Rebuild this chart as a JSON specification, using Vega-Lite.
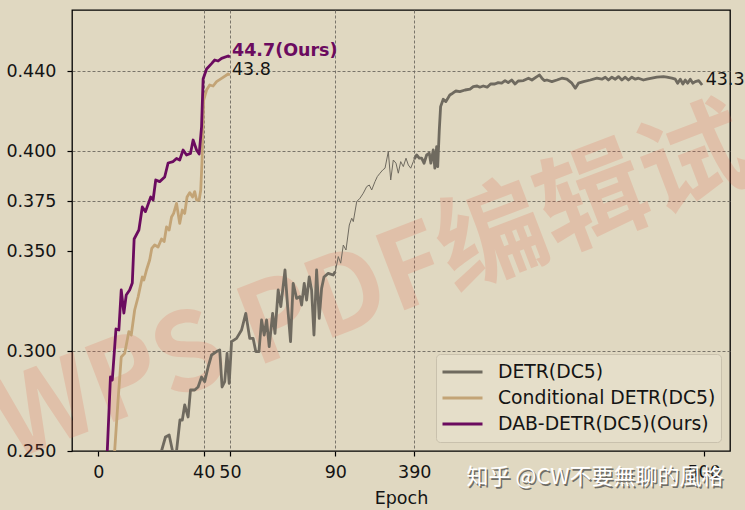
{
  "$schema": "https://vega.github.io/schema/vega-lite/v6.json",
  "width": 658,
  "height": 441,
  "autosize": {"type": "none"},
  "padding": {"left": 72, "top": 10, "right": 15, "bottom": 59},
  "background": "#e0d8c1",
  "config": {
    "font": "DejaVu Sans",
    "view": {"stroke": "#000000", "strokeWidth": 1.3, "fill": "#e0d8c1"},
    "axis": {
      "labelFont": "DejaVu Sans",
      "labelFontSize": 17.5,
      "labelColor": "#141414",
      "tickColor": "#000000",
      "tickSize": 5,
      "tickWidth": 1.2,
      "domain": false,
      "grid": true,
      "gridColor": "#6e6a60",
      "gridDash": [3, 2],
      "gridWidth": 0.9,
      "labelOverlap": false,
      "labelFlush": false,
      "titleFont": "DejaVu Sans",
      "titleFontSize": 17.5,
      "titleFontWeight": "normal",
      "titleColor": "#141414"
    },
    "legend": {
      "orient": "bottom-right",
      "offset": 9,
      "padding": 5,
      "fillColor": "#e5dec9",
      "strokeColor": "#c9c1ad",
      "cornerRadius": 4,
      "labelFont": "DejaVu Sans",
      "labelFontSize": 18.8,
      "labelColor": "#141414",
      "labelOffset": 14,
      "symbolType": "stroke",
      "symbolSize": 1600,
      "symbolStrokeWidth": 3,
      "rowPadding": 0,
      "clipHeight": 26,
      "labelLimit": 400
    }
  },
  "datasets": {
    "curves": [
      {"model": "DETR(DC5)", "epoch": 22.5, "ap": 0.240},
      {"model": "DETR(DC5)", "epoch": 24, "ap": 0.250},
      {"model": "DETR(DC5)", "epoch": 25.5, "ap": 0.257},
      {"model": "DETR(DC5)", "epoch": 26.9, "ap": 0.258},
      {"model": "DETR(DC5)", "epoch": 28.1, "ap": 0.2505},
      {"model": "DETR(DC5)", "epoch": 28.8, "ap": 0.243},
      {"model": "DETR(DC5)", "epoch": 29.7, "ap": 0.250},
      {"model": "DETR(DC5)", "epoch": 31, "ap": 0.2655},
      {"model": "DETR(DC5)", "epoch": 31.9, "ap": 0.2655},
      {"model": "DETR(DC5)", "epoch": 32.8, "ap": 0.273},
      {"model": "DETR(DC5)", "epoch": 34.1, "ap": 0.267},
      {"model": "DETR(DC5)", "epoch": 35, "ap": 0.2805},
      {"model": "DETR(DC5)", "epoch": 36.6, "ap": 0.2805},
      {"model": "DETR(DC5)", "epoch": 37.9, "ap": 0.282},
      {"model": "DETR(DC5)", "epoch": 39.2, "ap": 0.287},
      {"model": "DETR(DC5)", "epoch": 40.4, "ap": 0.2847},
      {"model": "DETR(DC5)", "epoch": 41.7, "ap": 0.292},
      {"model": "DETR(DC5)", "epoch": 43, "ap": 0.298},
      {"model": "DETR(DC5)", "epoch": 44.9, "ap": 0.2997},
      {"model": "DETR(DC5)", "epoch": 46.1, "ap": 0.3005},
      {"model": "DETR(DC5)", "epoch": 47, "ap": 0.282},
      {"model": "DETR(DC5)", "epoch": 48, "ap": 0.2847},
      {"model": "DETR(DC5)", "epoch": 48.9, "ap": 0.2988},
      {"model": "DETR(DC5)", "epoch": 49.7, "ap": 0.2838},
      {"model": "DETR(DC5)", "epoch": 50.6, "ap": 0.3047},
      {"model": "DETR(DC5)", "epoch": 52.5, "ap": 0.3063},
      {"model": "DETR(DC5)", "epoch": 54.4, "ap": 0.3105},
      {"model": "DETR(DC5)", "epoch": 56, "ap": 0.3188},
      {"model": "DETR(DC5)", "epoch": 57.5, "ap": 0.3063},
      {"model": "DETR(DC5)", "epoch": 58.8, "ap": 0.3063},
      {"model": "DETR(DC5)", "epoch": 59.8, "ap": 0.2997},
      {"model": "DETR(DC5)", "epoch": 61, "ap": 0.2997},
      {"model": "DETR(DC5)", "epoch": 62, "ap": 0.3155},
      {"model": "DETR(DC5)", "epoch": 63, "ap": 0.308},
      {"model": "DETR(DC5)", "epoch": 63.9, "ap": 0.3155},
      {"model": "DETR(DC5)", "epoch": 64.9, "ap": 0.3022},
      {"model": "DETR(DC5)", "epoch": 66.2, "ap": 0.3188},
      {"model": "DETR(DC5)", "epoch": 67.1, "ap": 0.3088},
      {"model": "DETR(DC5)", "epoch": 68.3, "ap": 0.3305},
      {"model": "DETR(DC5)", "epoch": 69.3, "ap": 0.3222},
      {"model": "DETR(DC5)", "epoch": 70.9, "ap": 0.3405},
      {"model": "DETR(DC5)", "epoch": 71.9, "ap": 0.3222},
      {"model": "DETR(DC5)", "epoch": 73, "ap": 0.3047},
      {"model": "DETR(DC5)", "epoch": 74, "ap": 0.3338},
      {"model": "DETR(DC5)", "epoch": 75.3, "ap": 0.3263},
      {"model": "DETR(DC5)", "epoch": 76.6, "ap": 0.3272},
      {"model": "DETR(DC5)", "epoch": 77.2, "ap": 0.323},
      {"model": "DETR(DC5)", "epoch": 78.2, "ap": 0.3338},
      {"model": "DETR(DC5)", "epoch": 79.1, "ap": 0.3255},
      {"model": "DETR(DC5)", "epoch": 80.1, "ap": 0.337},
      {"model": "DETR(DC5)", "epoch": 81, "ap": 0.3305},
      {"model": "DETR(DC5)", "epoch": 81.9, "ap": 0.308},
      {"model": "DETR(DC5)", "epoch": 82.9, "ap": 0.3405},
      {"model": "DETR(DC5)", "epoch": 83.9, "ap": 0.3163},
      {"model": "DETR(DC5)", "epoch": 84.8, "ap": 0.3313},
      {"model": "DETR(DC5)", "epoch": 85.7, "ap": 0.337},
      {"model": "DETR(DC5)", "epoch": 87.3, "ap": 0.3388},
      {"model": "DETR(DC5)", "epoch": 89.2, "ap": 0.338},
      {"model": "DETR(DC5)", "epoch": 90, "ap": 0.3397},
      {"model": "DETR(DC5)", "epoch": 101.4, "ap": 0.3472},
      {"model": "DETR(DC5)", "epoch": 110.5, "ap": 0.3439},
      {"model": "DETR(DC5)", "epoch": 120.4, "ap": 0.353},
      {"model": "DETR(DC5)", "epoch": 130.6, "ap": 0.3505},
      {"model": "DETR(DC5)", "epoch": 143.2, "ap": 0.363},
      {"model": "DETR(DC5)", "epoch": 152.3, "ap": 0.3664},
      {"model": "DETR(DC5)", "epoch": 158.4, "ap": 0.3647},
      {"model": "DETR(DC5)", "epoch": 171.3, "ap": 0.3747},
      {"model": "DETR(DC5)", "epoch": 183.8, "ap": 0.3764},
      {"model": "DETR(DC5)", "epoch": 196.3, "ap": 0.3789},
      {"model": "DETR(DC5)", "epoch": 209.3, "ap": 0.3822},
      {"model": "DETR(DC5)", "epoch": 219.1, "ap": 0.383},
      {"model": "DETR(DC5)", "epoch": 228.2, "ap": 0.3805},
      {"model": "DETR(DC5)", "epoch": 240.8, "ap": 0.3847},
      {"model": "DETR(DC5)", "epoch": 249.5, "ap": 0.3872},
      {"model": "DETR(DC5)", "epoch": 259.8, "ap": 0.3889},
      {"model": "DETR(DC5)", "epoch": 270, "ap": 0.3905},
      {"model": "DETR(DC5)", "epoch": 278.8, "ap": 0.3914},
      {"model": "DETR(DC5)", "epoch": 291.3, "ap": 0.3997},
      {"model": "DETR(DC5)", "epoch": 300.4, "ap": 0.3855},
      {"model": "DETR(DC5)", "epoch": 310.3, "ap": 0.3955},
      {"model": "DETR(DC5)", "epoch": 320.5, "ap": 0.3939},
      {"model": "DETR(DC5)", "epoch": 329.3, "ap": 0.3889},
      {"model": "DETR(DC5)", "epoch": 338.4, "ap": 0.3947},
      {"model": "DETR(DC5)", "epoch": 348.3, "ap": 0.3922},
      {"model": "DETR(DC5)", "epoch": 358.5, "ap": 0.3964},
      {"model": "DETR(DC5)", "epoch": 367.3, "ap": 0.393},
      {"model": "DETR(DC5)", "epoch": 376.4, "ap": 0.3914},
      {"model": "DETR(DC5)", "epoch": 386.2, "ap": 0.3947},
      {"model": "DETR(DC5)", "epoch": 390, "ap": 0.396},
      {"model": "DETR(DC5)", "epoch": 390.9, "ap": 0.398},
      {"model": "DETR(DC5)", "epoch": 391.9, "ap": 0.3964},
      {"model": "DETR(DC5)", "epoch": 392.8, "ap": 0.3964},
      {"model": "DETR(DC5)", "epoch": 393.7, "ap": 0.3939},
      {"model": "DETR(DC5)", "epoch": 394.7, "ap": 0.398},
      {"model": "DETR(DC5)", "epoch": 395.7, "ap": 0.3989},
      {"model": "DETR(DC5)", "epoch": 396.3, "ap": 0.3939},
      {"model": "DETR(DC5)", "epoch": 397.2, "ap": 0.4005},
      {"model": "DETR(DC5)", "epoch": 397.8, "ap": 0.3914},
      {"model": "DETR(DC5)", "epoch": 398.5, "ap": 0.4022},
      {"model": "DETR(DC5)", "epoch": 398.9, "ap": 0.3922},
      {"model": "DETR(DC5)", "epoch": 399.5, "ap": 0.4105},
      {"model": "DETR(DC5)", "epoch": 400, "ap": 0.4222},
      {"model": "DETR(DC5)", "epoch": 401, "ap": 0.4259},
      {"model": "DETR(DC5)", "epoch": 402, "ap": 0.4247},
      {"model": "DETR(DC5)", "epoch": 403.5, "ap": 0.428},
      {"model": "DETR(DC5)", "epoch": 404.6, "ap": 0.4289},
      {"model": "DETR(DC5)", "epoch": 405.8, "ap": 0.43},
      {"model": "DETR(DC5)", "epoch": 407.3, "ap": 0.4297},
      {"model": "DETR(DC5)", "epoch": 409.3, "ap": 0.4305},
      {"model": "DETR(DC5)", "epoch": 411.2, "ap": 0.4309},
      {"model": "DETR(DC5)", "epoch": 412.4, "ap": 0.4322},
      {"model": "DETR(DC5)", "epoch": 413.9, "ap": 0.4325},
      {"model": "DETR(DC5)", "epoch": 414.9, "ap": 0.4319},
      {"model": "DETR(DC5)", "epoch": 416.2, "ap": 0.4325},
      {"model": "DETR(DC5)", "epoch": 417.7, "ap": 0.4319},
      {"model": "DETR(DC5)", "epoch": 419, "ap": 0.4335},
      {"model": "DETR(DC5)", "epoch": 420.6, "ap": 0.4335},
      {"model": "DETR(DC5)", "epoch": 421.9, "ap": 0.4342},
      {"model": "DETR(DC5)", "epoch": 423.2, "ap": 0.4339},
      {"model": "DETR(DC5)", "epoch": 424.5, "ap": 0.4352},
      {"model": "DETR(DC5)", "epoch": 425.7, "ap": 0.4342},
      {"model": "DETR(DC5)", "epoch": 427, "ap": 0.4355},
      {"model": "DETR(DC5)", "epoch": 428.3, "ap": 0.4335},
      {"model": "DETR(DC5)", "epoch": 429.5, "ap": 0.435},
      {"model": "DETR(DC5)", "epoch": 431.5, "ap": 0.4352},
      {"model": "DETR(DC5)", "epoch": 433.4, "ap": 0.4364},
      {"model": "DETR(DC5)", "epoch": 434.7, "ap": 0.4355},
      {"model": "DETR(DC5)", "epoch": 436.6, "ap": 0.4372},
      {"model": "DETR(DC5)", "epoch": 437.6, "ap": 0.438},
      {"model": "DETR(DC5)", "epoch": 438.5, "ap": 0.4364},
      {"model": "DETR(DC5)", "epoch": 439.4, "ap": 0.4352},
      {"model": "DETR(DC5)", "epoch": 440.4, "ap": 0.4355},
      {"model": "DETR(DC5)", "epoch": 442.3, "ap": 0.4347},
      {"model": "DETR(DC5)", "epoch": 444.2, "ap": 0.4355},
      {"model": "DETR(DC5)", "epoch": 446.1, "ap": 0.4364},
      {"model": "DETR(DC5)", "epoch": 448, "ap": 0.4359},
      {"model": "DETR(DC5)", "epoch": 449.9, "ap": 0.4339},
      {"model": "DETR(DC5)", "epoch": 451.2, "ap": 0.4314},
      {"model": "DETR(DC5)", "epoch": 452.4, "ap": 0.4339},
      {"model": "DETR(DC5)", "epoch": 454.3, "ap": 0.4347},
      {"model": "DETR(DC5)", "epoch": 456.9, "ap": 0.4355},
      {"model": "DETR(DC5)", "epoch": 459.4, "ap": 0.4364},
      {"model": "DETR(DC5)", "epoch": 461.3, "ap": 0.4359},
      {"model": "DETR(DC5)", "epoch": 462.6, "ap": 0.4369},
      {"model": "DETR(DC5)", "epoch": 463.8, "ap": 0.4355},
      {"model": "DETR(DC5)", "epoch": 465.1, "ap": 0.4369},
      {"model": "DETR(DC5)", "epoch": 466.4, "ap": 0.4359},
      {"model": "DETR(DC5)", "epoch": 467.6, "ap": 0.4372},
      {"model": "DETR(DC5)", "epoch": 468.9, "ap": 0.4355},
      {"model": "DETR(DC5)", "epoch": 470.2, "ap": 0.4369},
      {"model": "DETR(DC5)", "epoch": 471.4, "ap": 0.4355},
      {"model": "DETR(DC5)", "epoch": 472.7, "ap": 0.4369},
      {"model": "DETR(DC5)", "epoch": 474, "ap": 0.4359},
      {"model": "DETR(DC5)", "epoch": 475.2, "ap": 0.4364},
      {"model": "DETR(DC5)", "epoch": 477.1, "ap": 0.4355},
      {"model": "DETR(DC5)", "epoch": 478.4, "ap": 0.4359},
      {"model": "DETR(DC5)", "epoch": 480.3, "ap": 0.4364},
      {"model": "DETR(DC5)", "epoch": 482.2, "ap": 0.4369},
      {"model": "DETR(DC5)", "epoch": 484.7, "ap": 0.4372},
      {"model": "DETR(DC5)", "epoch": 486, "ap": 0.4369},
      {"model": "DETR(DC5)", "epoch": 487.9, "ap": 0.4364},
      {"model": "DETR(DC5)", "epoch": 489.2, "ap": 0.4359},
      {"model": "DETR(DC5)", "epoch": 490.1, "ap": 0.4339},
      {"model": "DETR(DC5)", "epoch": 491.1, "ap": 0.4359},
      {"model": "DETR(DC5)", "epoch": 492.1, "ap": 0.4335},
      {"model": "DETR(DC5)", "epoch": 493, "ap": 0.4355},
      {"model": "DETR(DC5)", "epoch": 493.9, "ap": 0.4339},
      {"model": "DETR(DC5)", "epoch": 494.9, "ap": 0.4359},
      {"model": "DETR(DC5)", "epoch": 495.9, "ap": 0.4339},
      {"model": "DETR(DC5)", "epoch": 496.8, "ap": 0.4347},
      {"model": "DETR(DC5)", "epoch": 498.1, "ap": 0.4352},
      {"model": "DETR(DC5)", "epoch": 499.4, "ap": 0.433},
      {"model": "Conditional DETR(DC5)", "epoch": 5.6, "ap": 0.235},
      {"model": "Conditional DETR(DC5)", "epoch": 6.2, "ap": 0.25},
      {"model": "Conditional DETR(DC5)", "epoch": 7.5, "ap": 0.2755},
      {"model": "Conditional DETR(DC5)", "epoch": 8.7, "ap": 0.297},
      {"model": "Conditional DETR(DC5)", "epoch": 10, "ap": 0.2988},
      {"model": "Conditional DETR(DC5)", "epoch": 11.6, "ap": 0.3097},
      {"model": "Conditional DETR(DC5)", "epoch": 12.5, "ap": 0.308},
      {"model": "Conditional DETR(DC5)", "epoch": 13.8, "ap": 0.3205},
      {"model": "Conditional DETR(DC5)", "epoch": 15.1, "ap": 0.327},
      {"model": "Conditional DETR(DC5)", "epoch": 16.7, "ap": 0.337},
      {"model": "Conditional DETR(DC5)", "epoch": 17.3, "ap": 0.3355},
      {"model": "Conditional DETR(DC5)", "epoch": 18.3, "ap": 0.3405},
      {"model": "Conditional DETR(DC5)", "epoch": 19.5, "ap": 0.3455},
      {"model": "Conditional DETR(DC5)", "epoch": 20.3, "ap": 0.3513},
      {"model": "Conditional DETR(DC5)", "epoch": 21.4, "ap": 0.353},
      {"model": "Conditional DETR(DC5)", "epoch": 22.7, "ap": 0.352},
      {"model": "Conditional DETR(DC5)", "epoch": 24, "ap": 0.356},
      {"model": "Conditional DETR(DC5)", "epoch": 25, "ap": 0.3547},
      {"model": "Conditional DETR(DC5)", "epoch": 25.9, "ap": 0.362},
      {"model": "Conditional DETR(DC5)", "epoch": 26.9, "ap": 0.3605},
      {"model": "Conditional DETR(DC5)", "epoch": 27.8, "ap": 0.367},
      {"model": "Conditional DETR(DC5)", "epoch": 28.6, "ap": 0.3688},
      {"model": "Conditional DETR(DC5)", "epoch": 29.7, "ap": 0.3738},
      {"model": "Conditional DETR(DC5)", "epoch": 30.9, "ap": 0.3638},
      {"model": "Conditional DETR(DC5)", "epoch": 31.9, "ap": 0.3705},
      {"model": "Conditional DETR(DC5)", "epoch": 32.8, "ap": 0.3688},
      {"model": "Conditional DETR(DC5)", "epoch": 33.7, "ap": 0.377},
      {"model": "Conditional DETR(DC5)", "epoch": 34.7, "ap": 0.3792},
      {"model": "Conditional DETR(DC5)", "epoch": 35.8, "ap": 0.377},
      {"model": "Conditional DETR(DC5)", "epoch": 36.6, "ap": 0.3797},
      {"model": "Conditional DETR(DC5)", "epoch": 37.3, "ap": 0.3755},
      {"model": "Conditional DETR(DC5)", "epoch": 38.3, "ap": 0.3755},
      {"model": "Conditional DETR(DC5)", "epoch": 38.9, "ap": 0.3805},
      {"model": "Conditional DETR(DC5)", "epoch": 39.4, "ap": 0.3955},
      {"model": "Conditional DETR(DC5)", "epoch": 40, "ap": 0.4255},
      {"model": "Conditional DETR(DC5)", "epoch": 41.1, "ap": 0.4305},
      {"model": "Conditional DETR(DC5)", "epoch": 42.3, "ap": 0.433},
      {"model": "Conditional DETR(DC5)", "epoch": 43.6, "ap": 0.4325},
      {"model": "Conditional DETR(DC5)", "epoch": 44.9, "ap": 0.4347},
      {"model": "Conditional DETR(DC5)", "epoch": 46.8, "ap": 0.4363},
      {"model": "Conditional DETR(DC5)", "epoch": 49.3, "ap": 0.4385},
      {"model": "Conditional DETR(DC5)", "epoch": 50, "ap": 0.438},
      {"model": "DAB-DETR(DC5)(Ours)", "epoch": 2.8, "ap": 0.235},
      {"model": "DAB-DETR(DC5)(Ours)", "epoch": 3.4, "ap": 0.25},
      {"model": "DAB-DETR(DC5)(Ours)", "epoch": 4.6, "ap": 0.287},
      {"model": "DAB-DETR(DC5)(Ours)", "epoch": 5.3, "ap": 0.2855},
      {"model": "DAB-DETR(DC5)(Ours)", "epoch": 6.7, "ap": 0.311},
      {"model": "DAB-DETR(DC5)(Ours)", "epoch": 7.8, "ap": 0.3105},
      {"model": "DAB-DETR(DC5)(Ours)", "epoch": 8.7, "ap": 0.3305},
      {"model": "DAB-DETR(DC5)(Ours)", "epoch": 9.7, "ap": 0.319},
      {"model": "DAB-DETR(DC5)(Ours)", "epoch": 10.6, "ap": 0.328},
      {"model": "DAB-DETR(DC5)(Ours)", "epoch": 11.9, "ap": 0.3305},
      {"model": "DAB-DETR(DC5)(Ours)", "epoch": 12.9, "ap": 0.334},
      {"model": "DAB-DETR(DC5)(Ours)", "epoch": 13.6, "ap": 0.356},
      {"model": "DAB-DETR(DC5)(Ours)", "epoch": 15.4, "ap": 0.3605},
      {"model": "DAB-DETR(DC5)(Ours)", "epoch": 16.7, "ap": 0.372},
      {"model": "DAB-DETR(DC5)(Ours)", "epoch": 17.9, "ap": 0.3697},
      {"model": "DAB-DETR(DC5)(Ours)", "epoch": 19.9, "ap": 0.377},
      {"model": "DAB-DETR(DC5)(Ours)", "epoch": 20.8, "ap": 0.3755},
      {"model": "DAB-DETR(DC5)(Ours)", "epoch": 21.8, "ap": 0.3855},
      {"model": "DAB-DETR(DC5)(Ours)", "epoch": 23.3, "ap": 0.3847},
      {"model": "DAB-DETR(DC5)(Ours)", "epoch": 25.2, "ap": 0.387},
      {"model": "DAB-DETR(DC5)(Ours)", "epoch": 26.5, "ap": 0.394},
      {"model": "DAB-DETR(DC5)(Ours)", "epoch": 28.4, "ap": 0.3947},
      {"model": "DAB-DETR(DC5)(Ours)", "epoch": 29.7, "ap": 0.3963},
      {"model": "DAB-DETR(DC5)(Ours)", "epoch": 30.9, "ap": 0.3955},
      {"model": "DAB-DETR(DC5)(Ours)", "epoch": 32.2, "ap": 0.4005},
      {"model": "DAB-DETR(DC5)(Ours)", "epoch": 33.5, "ap": 0.398},
      {"model": "DAB-DETR(DC5)(Ours)", "epoch": 35, "ap": 0.3988},
      {"model": "DAB-DETR(DC5)(Ours)", "epoch": 36, "ap": 0.4055},
      {"model": "DAB-DETR(DC5)(Ours)", "epoch": 37.3, "ap": 0.4005},
      {"model": "DAB-DETR(DC5)(Ours)", "epoch": 38.3, "ap": 0.3985},
      {"model": "DAB-DETR(DC5)(Ours)", "epoch": 39.2, "ap": 0.412},
      {"model": "DAB-DETR(DC5)(Ours)", "epoch": 39.8, "ap": 0.436},
      {"model": "DAB-DETR(DC5)(Ours)", "epoch": 41.1, "ap": 0.441},
      {"model": "DAB-DETR(DC5)(Ours)", "epoch": 43, "ap": 0.4437},
      {"model": "DAB-DETR(DC5)(Ours)", "epoch": 44.2, "ap": 0.4455},
      {"model": "DAB-DETR(DC5)(Ours)", "epoch": 45.5, "ap": 0.445},
      {"model": "DAB-DETR(DC5)(Ours)", "epoch": 46.8, "ap": 0.4463},
      {"model": "DAB-DETR(DC5)(Ours)", "epoch": 49.3, "ap": 0.4475},
      {"model": "DAB-DETR(DC5)(Ours)", "epoch": 50, "ap": 0.447}
    ],
    "labels": [
      {"model": "DAB-DETR(DC5)(Ours)", "epoch": 50, "ap": 0.447, "label": "44.7(Ours)"},
      {"model": "Conditional DETR(DC5)", "epoch": 50, "ap": 0.438, "label": "43.8"},
      {"model": "DETR(DC5)", "epoch": 500, "ap": 0.433, "label": "43.3"}
    ],
    "watermarks": [
      {"kind": "wps", "epoch": 233, "ap": 0.3315, "label": "WPS PDF编辑试"},
      {"kind": "zhihu", "epoch": 458.7, "ap": 0.2368, "label": "知乎 @CW不要無聊的風格"}
    ]
  },
  "encoding": {
    "x": {
      "field": "epoch",
      "type": "quantitative",
      "scale": {"domain": [-10, 90, 390, 510], "range": [0, 263.3, 342.3, 658], "nice": false, "zero": false},
      "axis": {
        "title": "Epoch",
        "values": [0, 40, 50, 90, 390, 500],
        "labelPadding": 7,
        "titlePadding": 9,
        "gridOpacity": {"condition": {"test": "datum.value == 0 || datum.value == 500", "value": 0}, "value": 1}
      }
    },
    "y": {
      "field": "ap",
      "type": "quantitative",
      "scale": {"domain": [0.25, 0.4705], "nice": false, "zero": false},
      "axis": {
        "title": null,
        "values": [0.25, 0.3, 0.35, 0.375, 0.4, 0.44],
        "format": ".3f",
        "labelPadding": 11,
        "gridOpacity": {"condition": {"test": "datum.value == 0.25 || datum.value == 0.35", "value": 0}, "value": 1}
      }
    }
  },
  "layer": [
    {
      "data": {"name": "watermarks"},
      "transform": [{"filter": "datum.kind == 'wps'"}],
      "mark": {"type": "text", "font": "Noto Sans CJK SC", "fontSize": 108, "fontWeight": "bold", "angle": -21, "color": "#e0583f", "opacity": 0.18, "align": "center", "baseline": "middle", "clip": false},
      "encoding": {"text": {"field": "label"}}
    },
    {
      "data": {"name": "curves"},
      "transform": [{"filter": "datum.model != 'DETR(DC5)' || datum.epoch <= 90"}],
      "mark": {"type": "line", "strokeWidth": 2.8, "clip": true, "strokeJoin": "round"},
      "encoding": {
        "color": {
          "field": "model",
          "type": "nominal",
          "scale": {"domain": ["DETR(DC5)", "Conditional DETR(DC5)", "DAB-DETR(DC5)(Ours)"], "range": ["#6f6a5f", "#c3a476", "#6b0b5f"]},
          "legend": {"title": null}
        }
      }
    },
    {
      "data": {"name": "curves"},
      "transform": [{"filter": "datum.model == 'DETR(DC5)' && datum.epoch >= 90 && datum.epoch <= 390"}],
      "mark": {"type": "line", "strokeWidth": 1, "clip": true},
      "encoding": {"color": {"field": "model", "type": "nominal"}}
    },
    {
      "data": {"name": "curves"},
      "transform": [{"filter": "datum.model == 'DETR(DC5)' && datum.epoch >= 390"}],
      "mark": {"type": "line", "strokeWidth": 2.8, "clip": true, "strokeJoin": "round"},
      "encoding": {"color": {"field": "model", "type": "nominal"}}
    },
    {
      "data": {"name": "labels"},
      "transform": [{"filter": "datum.model == 'DAB-DETR(DC5)(Ours)'"}],
      "mark": {"type": "text", "align": "left", "baseline": "alphabetic", "dx": 2, "dy": -1, "fontSize": 17.5, "fontWeight": "bold", "color": "#6b0b5f"},
      "encoding": {"text": {"field": "label"}}
    },
    {
      "data": {"name": "labels"},
      "transform": [{"filter": "datum.model != 'DAB-DETR(DC5)(Ours)'"}],
      "mark": {"type": "text", "align": "left", "baseline": "alphabetic", "dx": 2, "dy": 0, "fontSize": 17.5, "color": "#141414"},
      "encoding": {"text": {"field": "label"}}
    },
    {
      "data": {"name": "watermarks"},
      "transform": [{"filter": "datum.kind == 'zhihu'"}],
      "mark": {"type": "text", "font": "Noto Sans CJK SC", "fontSize": 22, "color": "#4a4a4a", "opacity": 0.75, "align": "center", "baseline": "middle", "dx": 1.5, "dy": 1.5, "clip": false},
      "encoding": {"text": {"field": "label"}}
    },
    {
      "data": {"name": "watermarks"},
      "transform": [{"filter": "datum.kind == 'zhihu'"}],
      "mark": {"type": "text", "font": "Noto Sans CJK SC", "fontSize": 22, "color": "#ffffff", "align": "center", "baseline": "middle", "clip": false},
      "encoding": {"text": {"field": "label"}}
    }
  ]
}
